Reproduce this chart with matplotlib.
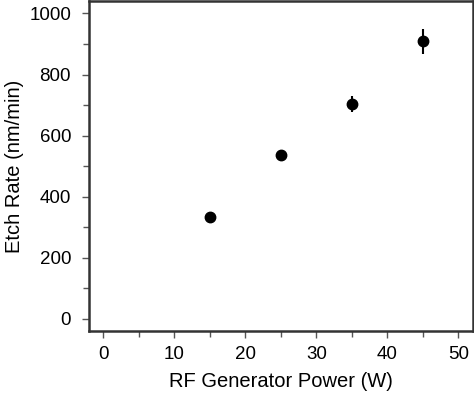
import matplotlib
matplotlib.use('Agg')
import matplotlib.pyplot as plt
from matplotlib.ticker import MultipleLocator

power = [15, 25, 35, 45]
etch_rate = [335, 537, 703, 909]
err = [8, 10, 25, 41]

plt.rcParams['font.family'] = ['Liberation Sans', 'DejaVu Sans']

fig = plt.figure(figsize=(4.74, 3.97), dpi=100)
ax = fig.add_axes([0.188, 0.166, 0.809, 0.831])
ax.errorbar(power, etch_rate, yerr=err, fmt='o', color='black', ms=7.5,
            elinewidth=1.5, capsize=0)

ax.set_xlim(-2, 52)
ax.set_ylim(-40, 1040)
ax.xaxis.set_major_locator(MultipleLocator(10))
ax.xaxis.set_minor_locator(MultipleLocator(5))
ax.yaxis.set_major_locator(MultipleLocator(200))
ax.yaxis.set_minor_locator(MultipleLocator(100))
ax.tick_params(which='both', direction='out', color='#555555', width=1,
               labelsize=13.5)
ax.tick_params(which='major', length=5, pad=6)
ax.tick_params(axis='y', which='major', pad=8)
ax.tick_params(which='minor', length=4)
for s in ax.spines.values():
    s.set_linewidth(1.8)
    s.set_color('#333333')

ax.set_xlabel('RF Generator Power (W)', fontsize=14.5, labelpad=6)
ax.set_ylabel('Etch Rate (nm/min)', fontsize=14.5, labelpad=4)

fig.savefig('out.png', dpi=100)
